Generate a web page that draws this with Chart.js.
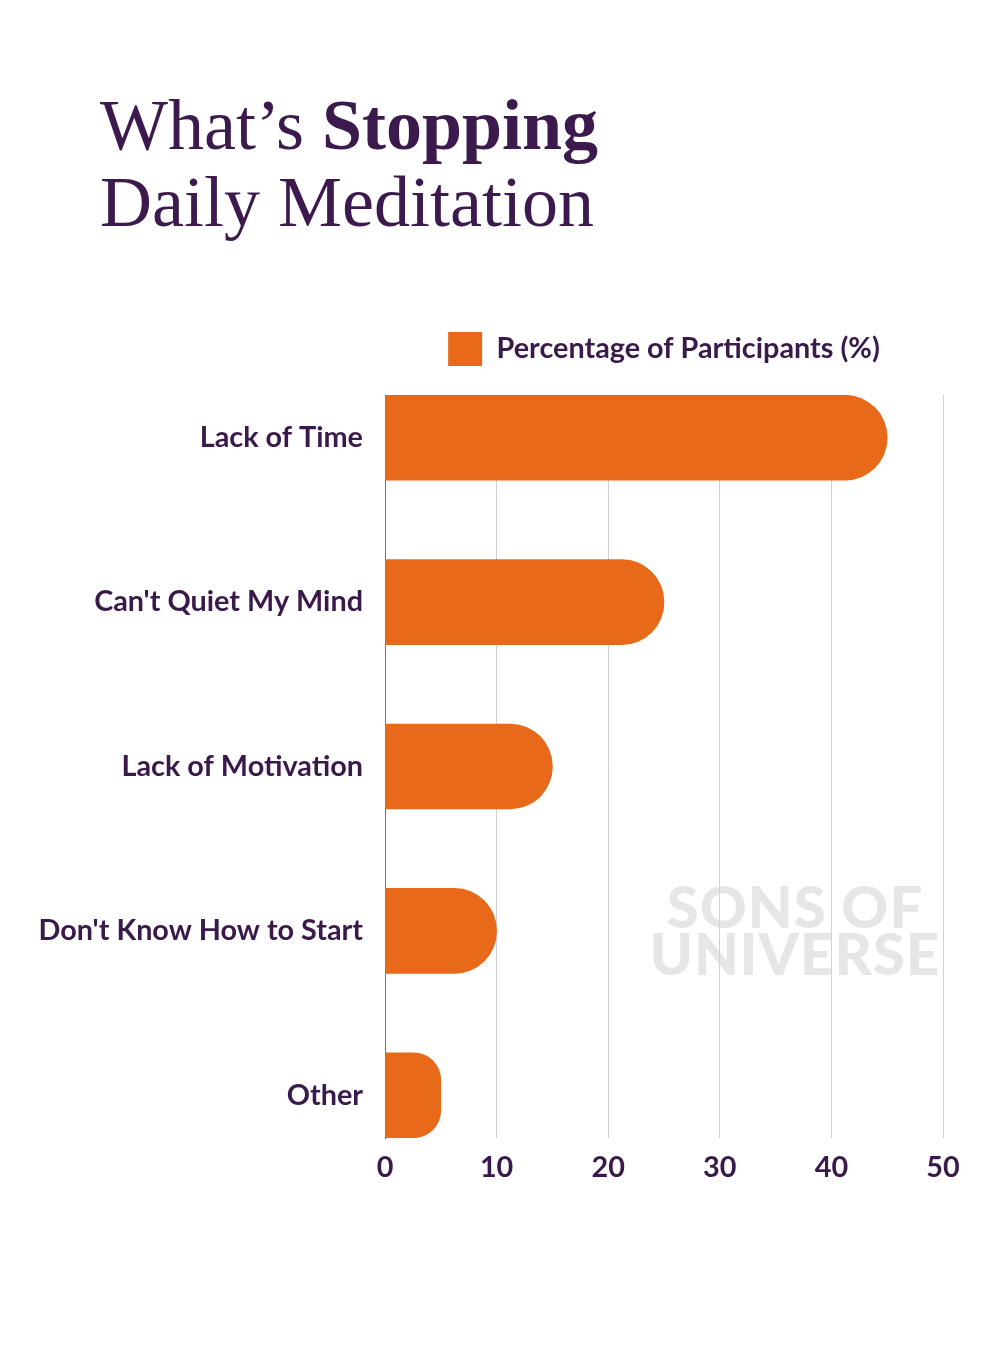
<!DOCTYPE html>
<html>
<head>
<meta charset="utf-8">
<title>What's Stopping Daily Meditation</title>
<script src="https://cdn.jsdelivr.net/npm/chart.js@4/dist/chart.umd.min.js"></script>
<style>
  html, body { margin: 0; padding: 0; background: #fff; }
  body { width: 1000px; height: 1350px; position: relative; overflow: hidden; }
  #title {
    position: absolute; left: 100px; top: 87px; margin: 0;
    font-family: "Liberation Serif", serif; font-weight: 400;
    font-size: 72px; line-height: 77px; color: #3c1a4e;
  }
  #title b { font-weight: 700; }
  #wrap { position: absolute; left: 0; top: 0; width: 1000px; height: 1350px; }
</style>
</head>
<body>
<div id="wrap"><canvas id="chart"></canvas></div>
<h1 id="title">What’s <b>Stopping</b><br>Daily Meditation</h1>
<script>
 // Data
 const categories = ['Lack of Time', "Can't Quiet My Mind", 'Lack of Motivation', "Don't Know How to Start", 'Other'];
 const percentages = [45, 25, 15, 10, 5];
 const xTicks = [0, 10, 20, 30, 40, 50];
 const seriesLabel = 'Percentage of Participants (%)';

 const purple = '#3a1a4a';
 const orange = '#e8691a';
 const labelFont = { family: 'Lato', size: 28.8, weight: '700' };

 // Faint brand mark behind the grid
 const watermark = {
     id: 'watermark',
     beforeDraw(chart) {
         const ctx = chart.ctx;
         ctx.save();
         ctx.fillStyle = '#e6e6e6';
         ctx.font = '900 58px Lato';
         ctx.textAlign = 'center';
         ctx.textBaseline = 'alphabetic';
         ctx.letterSpacing = '1px';
         ctx.fillText('SONS OF', 795, 928);
         ctx.fillText('UNIVERSE', 795, 975);
         ctx.restore();
     }
 };

 // Extra room under the legend
 const legendGap = {
     id: 'legendGap',
     beforeInit(chart) {
         const fit = chart.legend.fit;
         chart.legend.fit = function () {
             fit.call(this);
             this.height += 19;
         };
     }
 };

 const ctx = document.getElementById('chart').getContext('2d');
 const chart = new Chart(ctx, {
     type: 'bar',
     data: {
         datasets: [{
             label: seriesLabel,
             data: percentages.map((v, i) => ({ x: v, y: i })),
             backgroundColor: orange,
             borderWidth: 0,
             borderRadius: 200,
             borderSkipped: 'start',
             barThickness: 85
         }]
     },
     options: {
         indexAxis: 'y',
         responsive: true,
         maintainAspectRatio: false,
         animation: false,
         layout: { padding: { top: 322, right: 57, bottom: 162, left: 0 } },
         plugins: {
             legend: {
                 position: 'top',
                 fullSize: false,
                 labels: {
                     boxWidth: 34,
                     boxHeight: 34,
                     padding: 10,
                     color: purple,
                     font: labelFont
                 }
             },
             tooltip: { enabled: false }
         },
         scales: {
             x: {
                 type: 'linear',
                 min: xTicks[0],
                 max: xTicks[xTicks.length - 1],
                 afterFit: (scale) => { scale.height = 50; },
                 ticks: {
                     stepSize: xTicks[1] - xTicks[0],
                     color: purple,
                     font: labelFont,
                     padding: 12
                 },
                 grid: { color: '#d2d0d8', lineWidth: 1, drawTicks: false },
                 border: { display: false }
             },
             y: {
                 type: 'linear',
                 reverse: true,
                 offset: false,
                 min: -0.26,
                 max: categories.length - 1 + 0.26,
                 afterFit: (scale) => { scale.width = 385; },
                 afterBuildTicks: (scale) => {
                     scale.ticks = categories.map((c, i) => ({ value: i }));
                 },
                 ticks: {
                     callback: (v) => categories[v],
                     color: purple,
                     font: labelFont,
                     padding: 22
                 },
                 grid: { display: false, drawTicks: false },
                 border: { display: true, color: '#7d6a92', width: 1 }
             }
         }
     },
     plugins: [watermark, legendGap]
 });
</script>
</body>
</html>
